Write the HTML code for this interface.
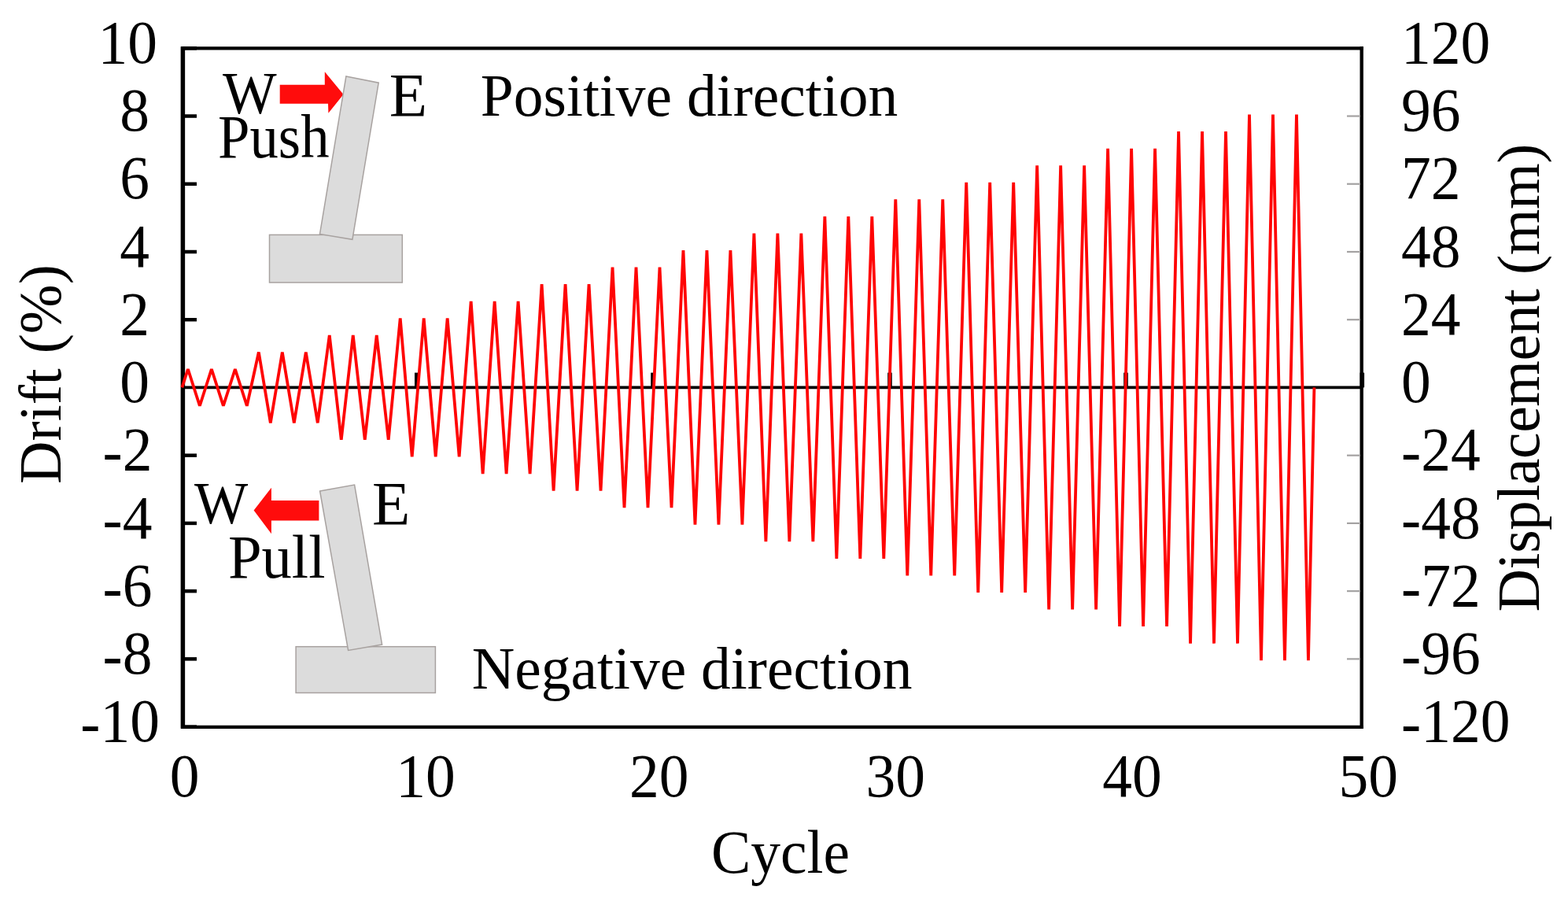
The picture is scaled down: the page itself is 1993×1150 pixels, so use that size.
<!DOCTYPE html>
<html><head><meta charset="utf-8"><title>Drift history</title>
<style>html,body{margin:0;padding:0;background:#fff;}body{width:1993px;height:1150px;overflow:hidden;}</style>
</head><body>
<svg width="1993" height="1150" viewBox="0 0 1993 1150" style="display:block;font-family:'Liberation Serif','Times New Roman',serif"><rect width="1993" height="1150" fill="#fff"/><g><rect x="342.5" y="298.4" width="168.8" height="60.6" fill="#dcdcdc" stroke="#a8a2a0" stroke-width="1.5"/><path d="M355.7,107.8 L412.8,107.8 L412.8,91.2 L436.5,120 L417.4,143.8 L417,131.8 L355.7,131.8 Z" fill="#ff0c0c"/><path d="M439.9,97 L481.2,105.2 L447.9,304.3 L406.5,297.4 Z" fill="#dcdcdc" stroke="#a8a2a0" stroke-width="1.5"/></g><g><rect x="376.1" y="821.7" width="177.3" height="58.7" fill="#dcdcdc" stroke="#a8a2a0" stroke-width="1.5"/><path d="M405.4,635.9 L344.9,635.9 L344.9,619.7 L322.6,648.4 L344.9,678.2 L344.9,661.5 L405.4,661.5 Z" fill="#ff0c0c"/><path d="M406.6,624 L450.6,616 L485.6,819.1 L442.6,826.4 Z" fill="#dcdcdc" stroke="#a8a2a0" stroke-width="1.5"/></g><line x1="232" y1="492.4" x2="1730" y2="492.4" stroke="#000" stroke-width="3.6"/><line x1="529.8" y1="473.6" x2="529.8" y2="492.4" stroke="#000" stroke-width="5.6"/><line x1="830" y1="473.6" x2="830" y2="492.4" stroke="#000" stroke-width="5.6"/><line x1="1131" y1="473.6" x2="1131" y2="492.4" stroke="#000" stroke-width="5.6"/><line x1="1431" y1="473.6" x2="1431" y2="492.4" stroke="#000" stroke-width="5.6"/><line x1="1731.3" y1="473.6" x2="1731.3" y2="492.4" stroke="#000" stroke-width="5.6"/><line x1="232.4" y1="59.2" x2="232.4" y2="925.8" stroke="#000" stroke-width="5.5"/><line x1="230" y1="61.3" x2="1732.9" y2="61.3" stroke="#000" stroke-width="4.3"/><line x1="1730.7" y1="59.2" x2="1730.7" y2="925.7" stroke="#000" stroke-width="4.4"/><line x1="230" y1="923.9" x2="1732.9" y2="923.9" stroke="#000" stroke-width="4.4"/><line x1="232" y1="61.30" x2="250" y2="61.30" stroke="#000" stroke-width="4.5"/><line x1="232" y1="147.53" x2="250" y2="147.53" stroke="#000" stroke-width="4.5"/><line x1="232" y1="233.76" x2="250" y2="233.76" stroke="#000" stroke-width="4.5"/><line x1="232" y1="319.99" x2="250" y2="319.99" stroke="#000" stroke-width="4.5"/><line x1="232" y1="406.22" x2="250" y2="406.22" stroke="#000" stroke-width="4.5"/><line x1="232" y1="578.68" x2="250" y2="578.68" stroke="#000" stroke-width="4.5"/><line x1="232" y1="664.91" x2="250" y2="664.91" stroke="#000" stroke-width="4.5"/><line x1="232" y1="751.14" x2="250" y2="751.14" stroke="#000" stroke-width="4.5"/><line x1="232" y1="837.37" x2="250" y2="837.37" stroke="#000" stroke-width="4.5"/><line x1="232" y1="923.60" x2="250" y2="923.60" stroke="#000" stroke-width="4.5"/><line x1="1712" y1="147.53" x2="1729" y2="147.53" stroke="#a4a2a2" stroke-width="2.2"/><line x1="1712" y1="233.76" x2="1729" y2="233.76" stroke="#a4a2a2" stroke-width="2.2"/><line x1="1712" y1="319.99" x2="1729" y2="319.99" stroke="#a4a2a2" stroke-width="2.2"/><line x1="1712" y1="406.22" x2="1729" y2="406.22" stroke="#a4a2a2" stroke-width="2.2"/><line x1="1712" y1="578.68" x2="1729" y2="578.68" stroke="#a4a2a2" stroke-width="2.2"/><line x1="1712" y1="664.91" x2="1729" y2="664.91" stroke="#a4a2a2" stroke-width="2.2"/><line x1="1712" y1="751.14" x2="1729" y2="751.14" stroke="#a4a2a2" stroke-width="2.2"/><line x1="1712" y1="837.37" x2="1729" y2="837.37" stroke="#a4a2a2" stroke-width="2.2"/><path d="M231.40,492.40 L238.90,469.04 L253.88,515.76 L268.88,469.04 L283.87,515.76 L298.86,469.04 L313.85,515.76 L328.84,447.47 L343.82,537.32 L358.81,447.47 L373.81,537.32 L388.80,447.47 L403.78,537.32 L418.77,425.91 L433.76,558.89 L448.75,425.91 L463.75,558.89 L478.74,425.91 L493.73,558.89 L508.72,404.35 L523.71,580.45 L538.70,404.35 L553.69,580.45 L568.67,404.35 L583.66,580.45 L598.65,382.79 L613.64,602.01 L628.63,382.79 L643.62,602.01 L658.62,382.79 L673.61,602.01 L688.60,361.22 L703.59,623.57 L718.58,361.22 L733.57,623.57 L748.55,361.22 L763.54,623.57 L778.53,339.66 L793.52,645.14 L808.51,339.66 L823.50,645.14 L838.50,339.66 L853.49,645.14 L868.48,318.10 L883.47,666.70 L898.46,318.10 L913.44,666.70 L928.43,318.10 L943.42,666.70 L958.41,296.54 L973.40,688.26 L988.39,296.54 L1003.38,688.26 L1018.38,296.54 L1033.37,688.26 L1048.36,274.97 L1063.35,709.82 L1078.34,274.97 L1093.33,709.82 L1108.32,274.97 L1123.31,709.82 L1138.30,253.41 L1153.29,731.39 L1168.28,253.41 L1183.27,731.39 L1198.26,253.41 L1213.25,731.39 L1228.24,231.85 L1243.23,752.95 L1258.22,231.85 L1273.21,752.95 L1288.20,231.85 L1303.19,752.95 L1318.18,210.29 L1333.17,774.51 L1348.16,210.29 L1363.15,774.51 L1378.14,210.29 L1393.12,774.51 L1408.12,188.72 L1423.11,796.07 L1438.10,188.72 L1453.09,796.07 L1468.08,188.72 L1483.07,796.07 L1498.06,167.16 L1513.05,817.64 L1528.04,167.16 L1543.03,817.64 L1558.02,167.16 L1573.01,817.64 L1588.00,145.60 L1602.99,839.20 L1617.98,145.60 L1632.97,839.20 L1647.96,145.60 L1662.95,839.20 L1670.44,492.40" fill="none" stroke="#ff0404" stroke-width="3.8" stroke-linejoin="bevel"/><text x="200" y="0" font-size="75.5" text-anchor="end" transform="translate(0,79.90) scale(1,1.03)">10</text><text x="190" y="0" font-size="75.5" text-anchor="end" transform="translate(0,166.13) scale(1,1.03)">8</text><text x="190" y="0" font-size="75.5" text-anchor="end" transform="translate(0,252.36) scale(1,1.03)">6</text><text x="190" y="0" font-size="75.5" text-anchor="end" transform="translate(0,338.59) scale(1,1.03)">4</text><text x="190" y="0" font-size="75.5" text-anchor="end" transform="translate(0,424.82) scale(1,1.03)">2</text><text x="190" y="0" font-size="75.5" text-anchor="end" transform="translate(0,511.05) scale(1,1.03)">0</text><text x="193.5" y="0" font-size="75.5" text-anchor="end" transform="translate(0,597.28) scale(1,1.03)"><tspan dy="2.8">-</tspan><tspan dy="-2.8">2</tspan></text><text x="193.5" y="0" font-size="75.5" text-anchor="end" transform="translate(0,683.51) scale(1,1.03)"><tspan dy="2.8">-</tspan><tspan dy="-2.8">4</tspan></text><text x="193.5" y="0" font-size="75.5" text-anchor="end" transform="translate(0,769.74) scale(1,1.03)"><tspan dy="2.8">-</tspan><tspan dy="-2.8">6</tspan></text><text x="193.5" y="0" font-size="75.5" text-anchor="end" transform="translate(0,855.97) scale(1,1.03)"><tspan dy="2.8">-</tspan><tspan dy="-2.8">8</tspan></text><text x="203" y="0" font-size="75.5" text-anchor="end" transform="translate(0,942.20) scale(1,1.03)"><tspan dy="2.8">-</tspan><tspan dy="-2.8">10</tspan></text><text x="1781" y="0" font-size="75.5" text-anchor="start" transform="translate(0,79.90) scale(1,1.03)">120</text><text x="1781" y="0" font-size="75.5" text-anchor="start" transform="translate(0,166.13) scale(1,1.03)">96</text><text x="1781" y="0" font-size="75.5" text-anchor="start" transform="translate(0,252.36) scale(1,1.03)">72</text><text x="1781" y="0" font-size="75.5" text-anchor="start" transform="translate(0,338.59) scale(1,1.03)">48</text><text x="1781" y="0" font-size="75.5" text-anchor="start" transform="translate(0,424.82) scale(1,1.03)">24</text><text x="1781" y="0" font-size="75.5" text-anchor="start" transform="translate(0,511.05) scale(1,1.03)">0</text><text x="1781" y="0" font-size="75.5" text-anchor="start" transform="translate(0,597.28) scale(1,1.03)"><tspan dy="2.8">-</tspan><tspan dy="-2.8">24</tspan></text><text x="1781" y="0" font-size="75.5" text-anchor="start" transform="translate(0,683.51) scale(1,1.03)"><tspan dy="2.8">-</tspan><tspan dy="-2.8">48</tspan></text><text x="1781" y="0" font-size="75.5" text-anchor="start" transform="translate(0,769.74) scale(1,1.03)"><tspan dy="2.8">-</tspan><tspan dy="-2.8">72</tspan></text><text x="1781" y="0" font-size="75.5" text-anchor="start" transform="translate(0,855.97) scale(1,1.03)"><tspan dy="2.8">-</tspan><tspan dy="-2.8">96</tspan></text><text x="1781" y="0" font-size="75.5" text-anchor="start" transform="translate(0,942.20) scale(1,1.03)"><tspan dy="2.8">-</tspan><tspan dy="-2.8">120</tspan></text><text x="234.6" y="0" font-size="75.5" text-anchor="middle" transform="translate(0,1011.80) scale(1,1.03)">0</text><text x="540.9" y="0" font-size="75.5" text-anchor="middle" transform="translate(0,1011.80) scale(1,1.03)">10</text><text x="837.8" y="0" font-size="75.5" text-anchor="middle" transform="translate(0,1011.80) scale(1,1.03)">20</text><text x="1138.2" y="0" font-size="75.5" text-anchor="middle" transform="translate(0,1011.80) scale(1,1.03)">30</text><text x="1438.9" y="0" font-size="75.5" text-anchor="middle" transform="translate(0,1011.80) scale(1,1.03)">40</text><text x="1739.2" y="0" font-size="75.5" text-anchor="middle" transform="translate(0,1011.80) scale(1,1.03)">50</text><text x="904" y="0" font-size="75.5" transform="translate(0,1108.6) scale(1,1.03)">Cycle</text><text transform="translate(76.5,615) rotate(-90)" font-size="75.5">Drift (%)</text><text transform="translate(1956,777.5) rotate(-90)" font-size="75.5" textLength="595" lengthAdjust="spacing">Displacement (mm)</text><text x="283" y="144" font-size="75.5" text-anchor="start" textLength="68.6" lengthAdjust="spacingAndGlyphs">W</text><text x="494.7" y="147.2" font-size="79" text-anchor="start" >E</text><text x="277.1" y="200.2" font-size="79" text-anchor="start" textLength="141.4" lengthAdjust="spacingAndGlyphs">Push</text><text x="610.8" y="147" font-size="75.5" text-anchor="start" >Positive direction</text><text x="247" y="665" font-size="75.5" text-anchor="start" textLength="68.2" lengthAdjust="spacingAndGlyphs">W</text><text x="472.9" y="666.2" font-size="79" text-anchor="start" >E</text><text x="289.9" y="734.3" font-size="79" text-anchor="start" textLength="123.6" lengthAdjust="spacingAndGlyphs">Pull</text><text x="599.7" y="875" font-size="75.5" text-anchor="start" >Negative direction</text></svg>
</body></html>
